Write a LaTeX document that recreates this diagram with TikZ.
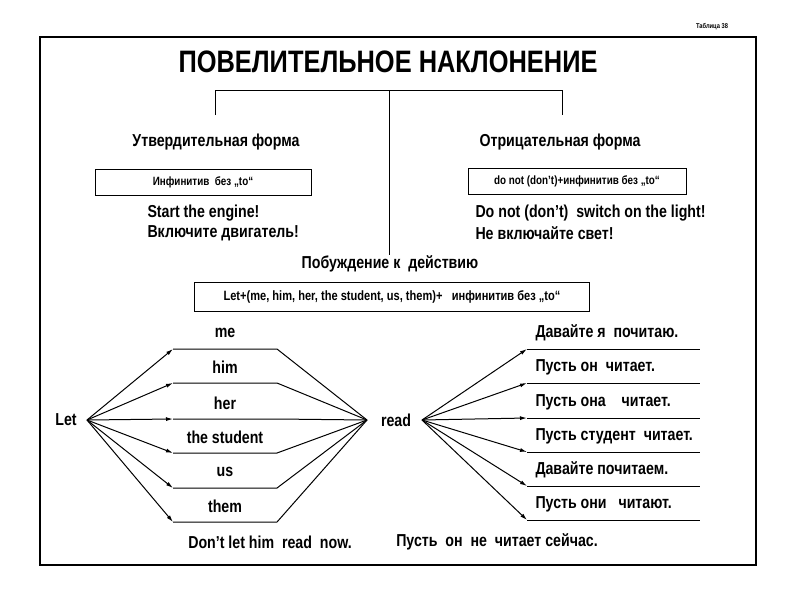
\documentclass[tikz,border=0pt]{standalone}
\usepackage{fontspec}
\usetikzlibrary{arrows.meta}
\setmainfont{Liberation Sans}[FakeStretch=0.82]
\begin{document}
\begin{tikzpicture}[x=1pt,y=-1pt,line width=1pt,
  lbl/.style={inner sep=1pt,font=\bfseries\fontsize{17.3}{19}\selectfont},
  bx/.style={draw,line width=1pt,minimum height=26pt,inner sep=2pt,font=\bfseries\fontsize{12}{14}\selectfont},
  arr/.style={-{Latex[length=7pt,width=4pt]}}]
\useasboundingbox (0,0) rectangle (800,600);
\draw[line width=1.2pt] (40,37) rectangle (756,565);
\node[font=\bfseries\fontsize{7}{8}\selectfont] (tab) at (712,27) {Таблица 38};
\node[font=\bfseries\fontsize{31}{34}\selectfont] (title) at (388,62) {ПОВЕЛИТЕЛЬНОЕ НАКЛОНЕНИЕ};
\coordinate (tl) at (215,115); \coordinate (tla) at (215,90);
\coordinate (tr) at (562,115); \coordinate (tra) at (562,90);
\coordinate (tm) at (389,90); \coordinate (tmb) at (389,255);
\draw (tl) -- (tla) -- (tra) -- (tr);
\draw (tm) -- (tmb);
\node[lbl] (aff) at (216,142) {Утвердительная форма};
\node[lbl] (neg) at (560,142) {Отрицательная форма};
\node[bx,minimum width=216pt] (b1) at (203,182) {Инфинитив \ без „to“};
\node[bx,minimum width=218pt] (b2) at (577,181) {do not (don't)+инфинитив без „to“};
\node[lbl,anchor=west] (s1) at (146,213) {Start the engine!};
\node[lbl,anchor=west] (s2) at (146,233) {Включите двигатель!};
\node[lbl,anchor=west] (s3) at (474,213) {Do not (don't) \ switch on the light!};
\node[lbl,anchor=west] (s4) at (474,233) {Не включайте свет!};
\node[lbl] (pob) at (390,264) {Побуждение к \ действию};
\node[bx,minimum width=395pt,minimum height=29pt,font=\bfseries\fontsize{13.5}{15}\selectfont] (b3) at (392,297) {Let+(me, him, her, the student, us, them)+ \ \ инфинитив без „to“};
\node[lbl] (let) at (66,420) {Let};
\coordinate (lp) at (87,420);
\coordinate (rp) at (367,420);
\node[lbl] (read) at (396,420) {read};
\coordinate (rq) at (422,420);
\foreach \y/\t [count=\i] in {349/me,383/him,419/her,453/the student,488/us,522/them}{
  \coordinate (a\i) at (173,\y); \coordinate (b\i) at (277,\y);
  \draw[arr] (lp) -- (a\i);
  \draw (a\i) -- (b\i) -- (rp);
  \node[lbl] (w\i) at (225,\y-16) {\t};
}
\foreach \y/\t [count=\i] in {349/Давайте я \ почитаю.,383/Пусть он \ читает.,418/Пусть она \ \ \ читает.,452/Пусть студент \ читает.,486/Давайте почитаем.,520/Пусть они \ \ читают.}{
  \coordinate (c\i) at (527,\y); \coordinate (d\i) at (700,\y);
  \draw[arr] (rq) -- (c\i);
  \draw (c\i) -- (d\i);
  \node[lbl,anchor=west] (r\i) at (534,\y-16) {\t};
}
\node[lbl] (f1) at (270,542) {Don't let him \ read \ now.};
\node[lbl] (f2) at (497,542) {Пусть \ он \ не \ читает сейчас.};
\end{tikzpicture}
\end{document}
